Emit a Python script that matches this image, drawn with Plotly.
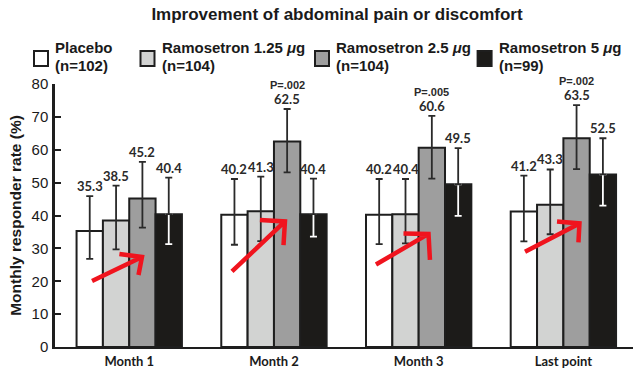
import numpy as np
import plotly.graph_objects as go

# ---------------- data ----------------
categories = ["Month 1", "Month 2", "Month 3", "Last point"]
series_names = ["Placebo", "Ramosetron 1.25 <i>μ</i>g", "Ramosetron 2.5 <i>μ</i>g", "Ramosetron 5 <i>μ</i>g"]
series_n = ["(n=102)", "(n=104)", "(n=104)", "(n=99)"]

placebo = [35.3, 40.2, 40.2, 41.2]
ramo_125 = [38.5, 41.3, 40.4, 43.3]
ramo_25 = [45.2, 62.5, 60.6, 63.5]
ramo_5 = [40.4, 40.4, 49.5, 52.5]

placebo_hi = [45.9, 51.1, 51.1, 52.1]
placebo_lo = [26.8, 31.1, 31.3, 32.1]
ramo_125_hi = [49.1, 51.8, 51.1, 54.0]
ramo_125_lo = [29.7, 32.2, 31.5, 34.3]
ramo_25_hi = [56.3, 72.4, 70.3, 73.6]
ramo_25_lo = [36.3, 53.1, 51.2, 54.1]
ramo_5_hi = [51.5, 51.2, 60.5, 63.5]
ramo_5_lo = [31.3, 33.6, 39.9, 43.0]

p_values_25 = ["", "P=.002", "P=.005", "P=.002"]

# red hand-drawn arrows (decoration): tail, tip, head1, head2 in (category units, %)
arrows = [
    [(-0.257, 20.1), (0.088, 27.4), (-0.068, 28.3), (0.064, 21.9)],
    [(0.71, 23.0), (1.076, 38.2), (0.903, 38.6), (1.066, 31.0)],
    [(1.705, 25.1), (2.068, 34.4), (1.895, 34.5), (2.078, 26.5)],
    [(2.735, 29.0), (3.111, 37.6), (2.956, 38.2), (3.104, 31.8)],
]

# ---------------- style ----------------
values = [placebo, ramo_125, ramo_25, ramo_5]
his = [placebo_hi, ramo_125_hi, ramo_25_hi, ramo_5_hi]
los = [placebo_lo, ramo_125_lo, ramo_25_lo, ramo_5_lo]
fills = ["#ffffff", "#d2d3d2", "#9e9e9e", "#1c1b19"]
OUTLINE = "#1e1e1e"
ERR = "#2a2a2a"
BAR_W = 0.182
ARIAL = "Liberation Sans, Arial, sans-serif"
CAL = "Lato, Carlito, Calibri, sans-serif"

x_base = np.arange(len(categories))

fig = go.Figure()
annotations = []

for j, (vals, hi, lo, fill) in enumerate(zip(values, his, los, fills)):
    xs = x_base + (j - 1.5) * BAR_W
    vals = np.array(vals)
    up = np.array(hi) - vals
    dn = vals - np.array(lo)
    is_black = j == 3
    fig.add_trace(go.Bar(
        x=xs, y=vals, width=BAR_W,
        marker=dict(color=fill, line=dict(color=OUTLINE, width=2)),
        error_y=dict(type="data", symmetric=False,
                     array=np.zeros_like(up) if is_black else up,
                     arrayminus=dn,
                     color="#ffffff" if is_black else ERR,
                     thickness=1.8, width=3.5),
        showlegend=False, hoverinfo="skip",
    ))
    if is_black:
        fig.add_trace(go.Scatter(
            x=xs, y=vals, mode="markers", marker=dict(size=1, opacity=0),
            error_y=dict(type="data", symmetric=False, array=up,
                         arrayminus=np.zeros_like(up), color=ERR,
                         thickness=1.8, width=3.5),
            showlegend=False, hoverinfo="skip",
        ))
    for i in range(len(categories)):
        annotations.append(dict(
            x=xs[i], y=hi[i], xref="x", yref="y", text=f"<b>{vals[i]:.1f}</b>",
            showarrow=False, yanchor="bottom", yshift=0,
            font=dict(family=CAL, size=13, color="#2a2a2a"),
        ))
        if j == 2 and p_values_25[i]:
            annotations.append(dict(
                x=xs[i], y=hi[i], xref="x", yref="y", text=f"<b>{p_values_25[i]}</b>",
                showarrow=False, yanchor="bottom", yshift=16,
                font=dict(family=ARIAL, size=11, color="#2a2a2a"),
            ))

# manual legend (boxes + two-line labels)
L, T, PH, PW = 55, 84, 263, 578
def px(xp):
    return (xp - L) / PW
def py(yp):
    return (T + PH - yp) / PH

legend_x = [34, 140.5, 315, 477.6]
shapes = []
for j in range(4):
    bx = legend_x[j]
    shapes.append(dict(type="rect", xref="paper", yref="paper",
                       x0=px(bx), x1=px(bx + 14), y0=py(66), y1=py(51),
                       fillcolor=fills[j], line=dict(color=OUTLINE, width=2)))
    annotations.append(dict(x=px(bx + 19), y=py(48), xref="paper", yref="paper",
                            text=f"<b>{series_names[j]}</b>", showarrow=False,
                            xanchor="left", yanchor="middle",
                            font=dict(family=ARIAL, size=15, color="#1a1a1a")))
    annotations.append(dict(x=px(bx + 19), y=py(65.5), xref="paper", yref="paper",
                            text=f"<b>{series_n[j]}</b>", showarrow=False,
                            xanchor="left", yanchor="middle",
                            font=dict(family=ARIAL, size=15, color="#1a1a1a")))

for tail, tip, h1, h2 in arrows:
    path = (f"M{tail[0]},{tail[1]} L{tip[0]},{tip[1]} "
            f"M{h1[0]},{h1[1]} L{tip[0]},{tip[1]} L{h2[0]},{h2[1]}")
    shapes.append(dict(type="path", xref="x", yref="y", path=path,
                       line=dict(color="#f0141e", width=4.5)))

fig.update_layout(
    width=633, height=377,
    margin=dict(l=L, r=0, t=T, b=377 - T - PH, pad=0),
    paper_bgcolor="white", plot_bgcolor="white",
    barmode="overlay",
    title=dict(text="<b>Improvement of abdominal pain or discomfort</b>",
               x=337 / 633, xanchor="center", y=1 - 14 / 377, yanchor="middle",
               xref="container", yref="container",
               font=dict(family=ARIAL, size=17, color="#1a1a1a")),
    xaxis=dict(range=[-0.513, 3.481], tickvals=x_base, ticktext=[f"<b>{c}</b>" for c in categories],
               showline=True, linecolor=OUTLINE, linewidth=2, ticks="",
               showgrid=False, zeroline=False, ticklabelstandoff=1,
               tickfont=dict(family=CAL, size=13, color="#1a1a1a")),
    yaxis=dict(range=[0, 80], dtick=10, showline=True, linecolor=OUTLINE, linewidth=2.5,
               ticks="inside", ticklen=6, tickwidth=2, tickcolor=OUTLINE,
               showgrid=False, zeroline=False, ticklabelstandoff=1,
               tickfont=dict(family=ARIAL, size=15, color="#1a1a1a"),
               title=dict(text="<b>Monthly responder rate (%)</b>", standoff=7,
                          font=dict(family=ARIAL, size=15.5, color="#1a1a1a"))),
    annotations=annotations,
    shapes=shapes,
)

fig.write_html("out.html", config={"displayModeBar": False},
               post_script="document.body.style.margin='0';")
